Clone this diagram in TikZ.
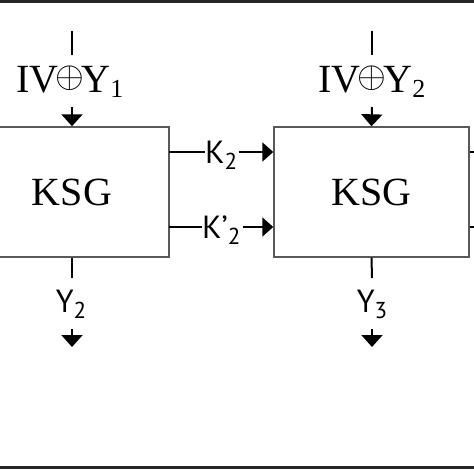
\documentclass[tikz,border=0pt]{standalone}
\usepackage{graphicx}
\usepackage{fontspec}
\setmainfont{Liberation Serif}
\newfontfamily\ksans{PT Sans}
\usetikzlibrary{arrows.meta}
\definecolor{boxgray}{gray}{0.35}
\definecolor{framegray}{gray}{0.15}
\tikzset{
  ksgbox/.style={draw=boxgray, line width=1.4pt, minimum width=194pt, minimum height=130pt, inner sep=0pt,
    font=\fontsize{40}{40}\selectfont},
  stub/.style={line width=2pt, black},
  arr/.style={line width=2pt, black, -{Triangle[width=21pt,length=12pt]}},
  harr/.style={line width=2pt, black, -{Triangle[width=19pt,length=11pt]}},
  serlab/.style={inner sep=0pt, font=\fontsize{40}{40}\selectfont},
  sanlab/.style={inner sep=0pt, font=\ksans\fontsize{32}{32}\selectfont},
}
\newcommand{\subsc}[1]{\raisebox{-6pt}{\fontsize{23}{23}\selectfont #1}}
\newcommand{\sersub}[1]{\raisebox{-5pt}{\fontsize{26}{26}\selectfont #1}}
\newcommand{\xorsym}{\kern-3pt\raisebox{5pt}{\scalebox{3.7}{\fontsize{10}{10}\selectfont$\oplus$}}\kern-3pt}
\begin{document}
\begin{tikzpicture}[x=1pt,y=-1pt]
\useasboundingbox (0,0) rectangle (474,474);
% frame lines
\draw[framegray, line width=3pt] (-5,1.5) -- (480,1.5);
\draw[framegray, line width=3pt] (-5,467.5) -- (480,467.5);
% boxes
\node[ksgbox] (ksg1) at (72,192) {KSG};
\node[ksgbox, minimum width=195pt] (ksg2) at (371.5,192) {KSG};
% top inputs
\coordinate (in1) at (72,31);
\coordinate (in2) at (372,31);
\node[serlab, anchor=base] (iv1) at (70,92) {IV\xorsym Y\sersub{1}};
\node[serlab, anchor=base] (iv2) at (372,92) {IV\xorsym Y\sersub{2}};
\draw[stub] (in1) -- (72,55);
\draw[stub] (in2) -- (372,55);
\draw[arr] (72,107) -- (ksg1.north);
\draw[arr] (372,107) -- (ksg2.north);
% K labels
\node[sanlab, anchor=base west] (k2) at (205,163) {K\subsc{2}};
\node[sanlab, anchor=base west] (kp2) at (202,238) {K’\subsc{2}};
\coordinate (ka) at (169,152);
\coordinate (kb) at (169,227);
\draw[stub] (ka) -- (k2.west |- ka);
\draw[harr] (k2.east |- ka) ++(2,0) -- (ksg2.west |- ka);
\draw[stub] (kb) -- (kp2.west |- kb);
\draw[harr] (kp2.east |- kb) ++(2,0) -- (ksg2.west |- kb);
% right stubs
\coordinate (ra) at (480,152);
\coordinate (rb) at (480,227);
\draw[stub] (ksg2.east |- ra) -- (ra);
\draw[stub] (ksg2.east |- rb) -- (rb);
% outputs
\draw[stub] (ksg1.south) -- (72,278);
\draw[stub] (ksg2.south) -- (372,278);
\node[sanlab, anchor=base] (y2) at (71,312) {Y\subsc{2}};
\node[sanlab, anchor=base] (y3) at (372,312) {Y\subsc{3}};
\coordinate (o1) at (72,347);
\coordinate (o2) at (372,347);
\draw[arr] (72,329) -- (o1);
\draw[arr] (372,329) -- (o2);
\end{tikzpicture}
\end{document}
